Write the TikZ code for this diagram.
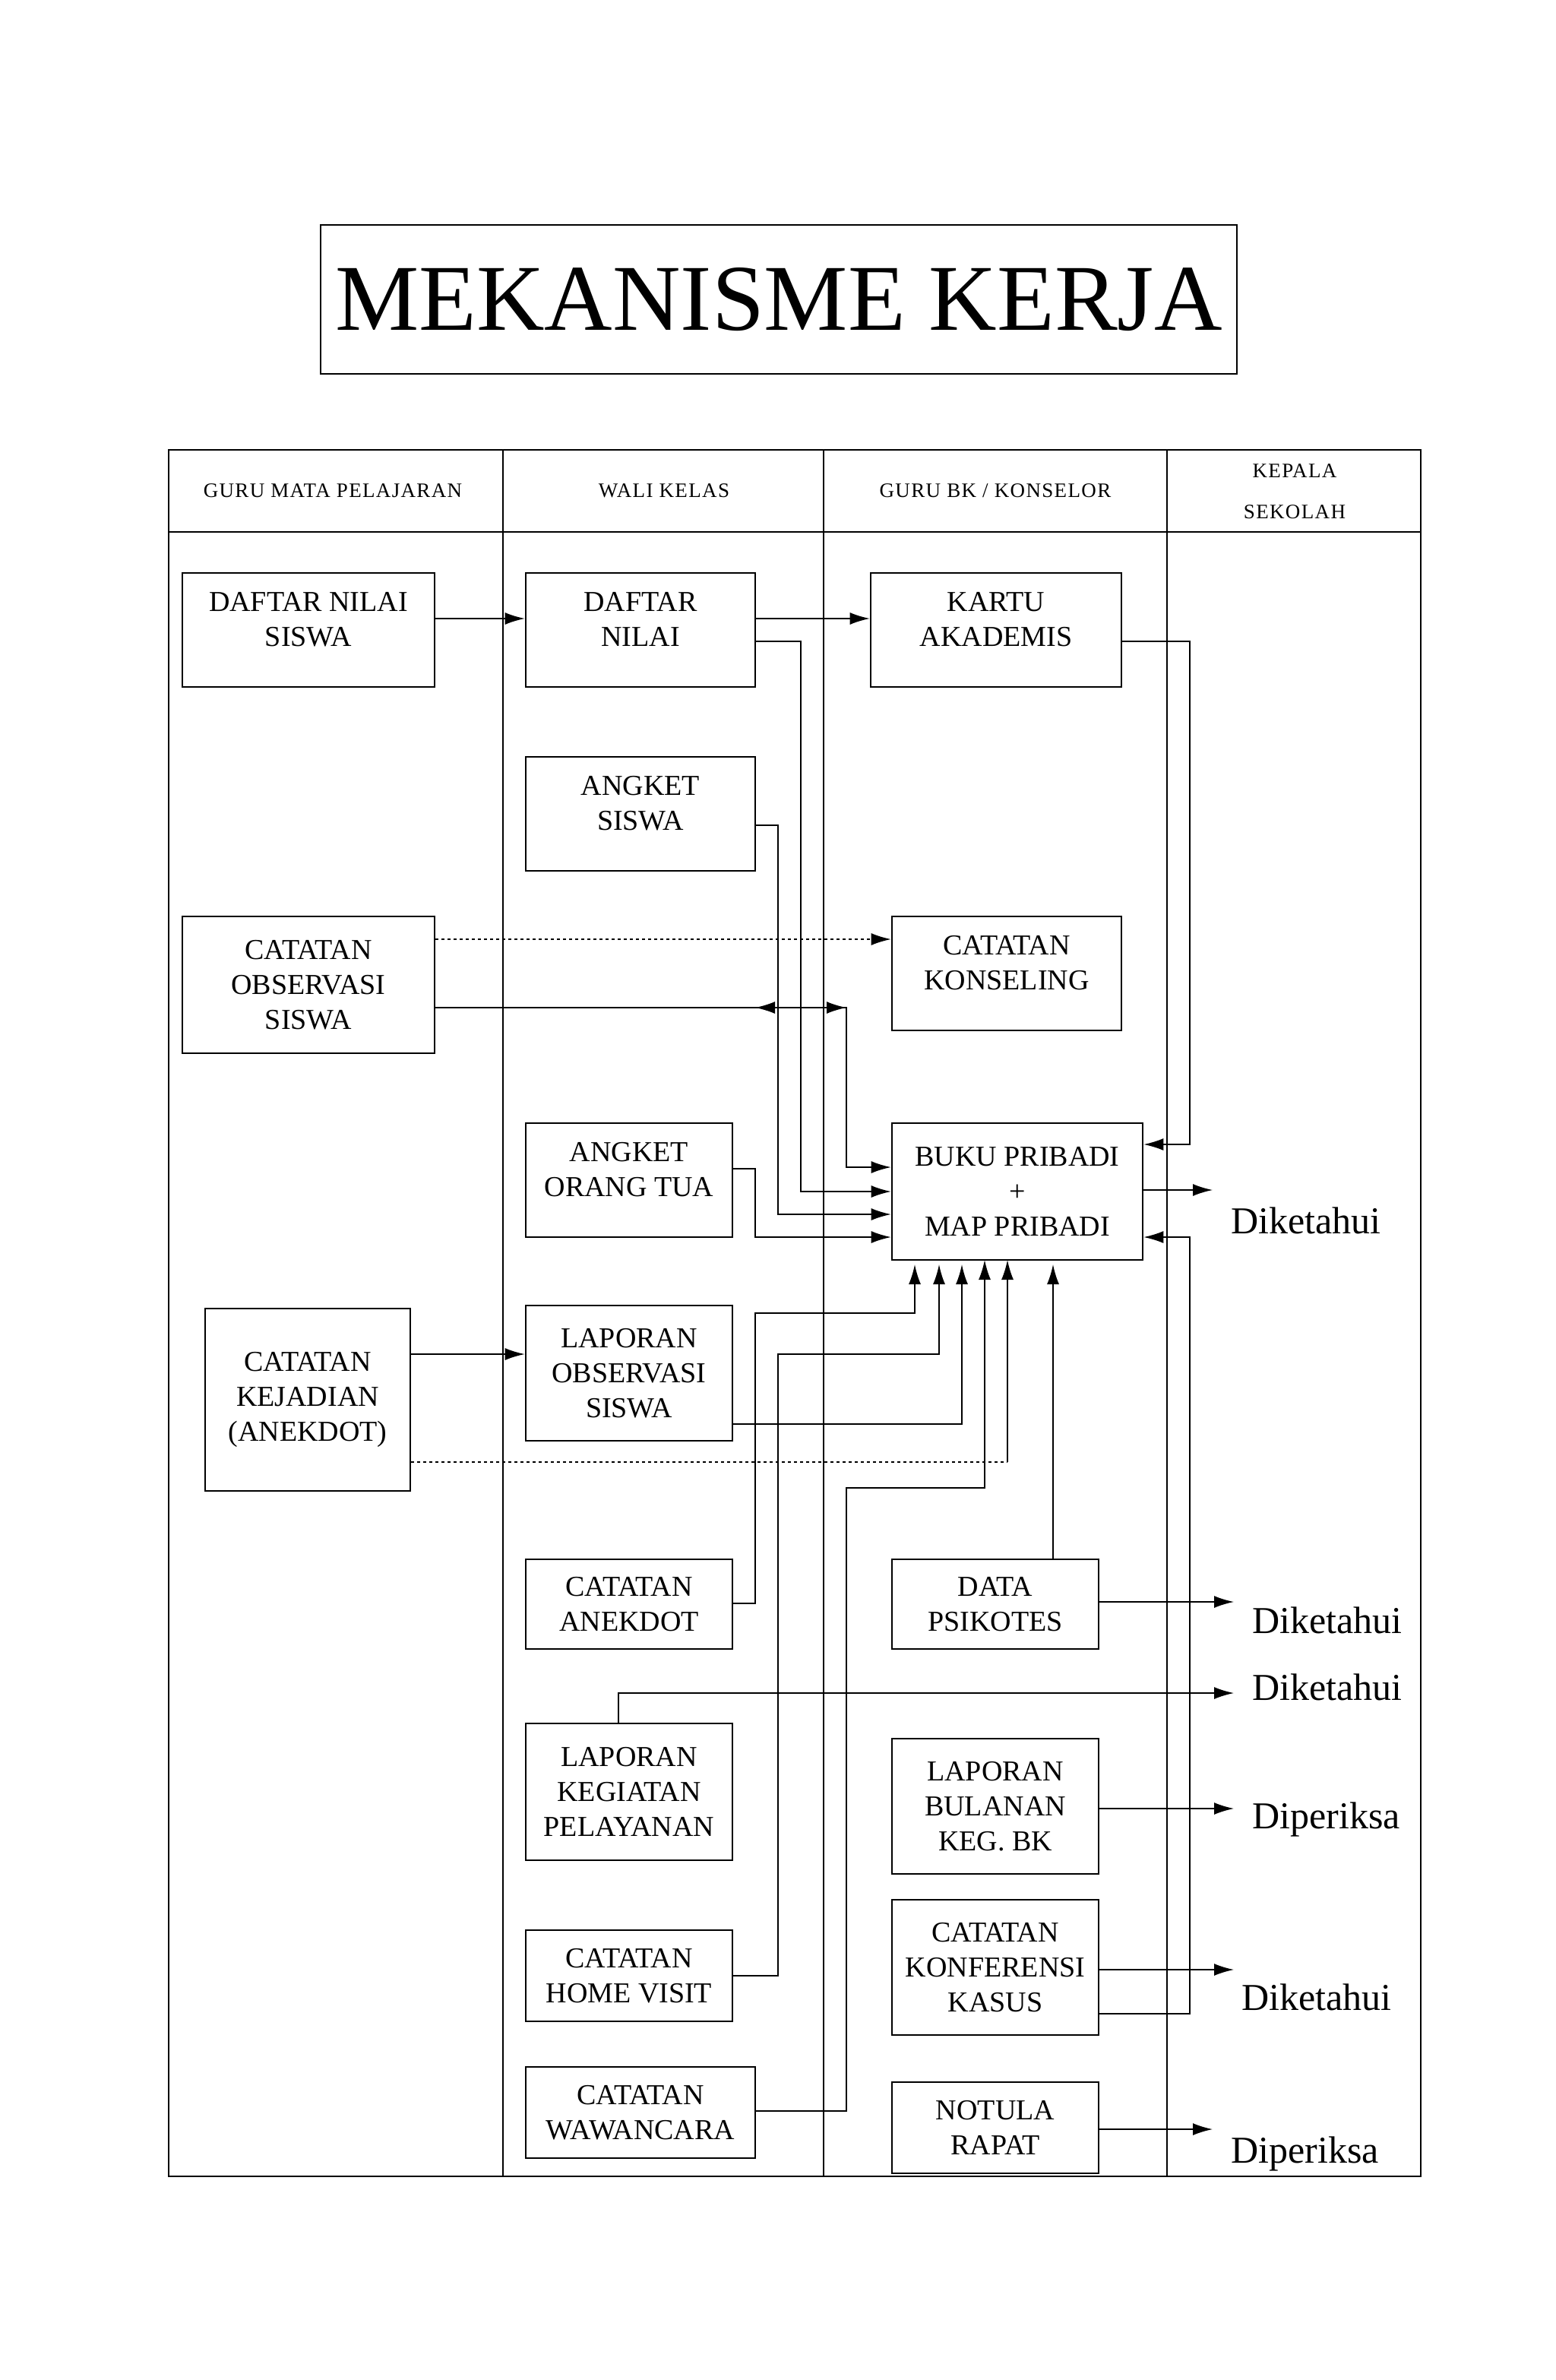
\documentclass[tikz,border=0pt]{standalone}
\usepackage{fontspec}
\setmainfont{Liberation Serif}
\usetikzlibrary{arrows.meta}
\begin{document}
\begin{tikzpicture}[x=1pt,y=-1pt,
  ln/.style={line width=0.9pt},
  ar/.style={ln,-{Latex[length=13pt,width=8pt]}},
  dt/.style={ar,dash pattern=on 2pt off 2pt},
  lab/.style={font=\fontsize{25}{27}\selectfont,anchor=west,inner sep=0}]
\useasboundingbox (0,0) rectangle (1024,1566);
\newcommand\bx[6]{\node[draw,line width=1.3pt,inner sep=0,align=center,
  minimum width={#4-#2},minimum height={#5-#3},
  font=\fontsize{19}{23}\selectfont] (#1) at ({(#2+#4)/2},{(#3+#5)/2}) {#6};}
% title
\node[draw,line width=1pt,minimum width=603,minimum height=98,inner sep=0,
  font=\fontsize{62}{66}\selectfont] (T) at (512.5,197) {MEKANISME KERJA};
% table
\draw[line width=0.9pt] (111,296) rectangle (935,1432);
\draw[line width=0.9pt] (111,350) -- (935,350);
\foreach \x in {331,542,768} \draw[line width=0.9pt] (\x,296) -- (\x,1432);
\begin{scope}[font=\fontsize{13.5}{15}\selectfont\addfontfeatures{LetterSpace=5}]
\node (H1) at (219,323) {GURU MATA PELAJARAN};
\node (H2) at (437,323) {WALI KELAS};
\node (H3) at (655,323) {GURU BK / KONSELOR};
\node (H4a) at (852,310) {KEPALA};
\node (H4b) at (852,337) {SEKOLAH};
\end{scope}
% boxes
\bx{DN1}{120}{377}{286}{452}{DAFTAR NILAI\\SISWA\\[-9pt]}
\bx{DN2}{346}{377}{497}{452}{DAFTAR\\NILAI\\[-9pt]}
\bx{KA}{573}{377}{738}{452}{KARTU\\AKADEMIS\\[-9pt]}
\bx{AS}{346}{498}{497}{573}{ANGKET\\SISWA\\[-9pt]}
\bx{COS}{120}{603}{286}{693}{CATATAN\\OBSERVASI\\SISWA}
\bx{CK}{587}{603}{738}{678}{CATATAN\\KONSELING\\[-9pt]}
\bx{AOT}{346}{739}{482}{814}{ANGKET\\ORANG TUA\\[-9pt]}
\bx{BP}{587}{739}{752}{829}{BUKU PRIBADI\\+\\MAP PRIBADI}
\bx{CKJ}{135}{861}{270}{981}{CATATAN\\KEJADIAN\\(ANEKDOT)}
\bx{LOS}{346}{859}{482}{948}{LAPORAN\\OBSERVASI\\SISWA}
\bx{CA}{346}{1026}{482}{1085}{CATATAN\\ANEKDOT}
\bx{DP}{587}{1026}{723}{1085}{DATA\\PSIKOTES}
\bx{LKP}{346}{1134}{482}{1224}{LAPORAN\\KEGIATAN\\PELAYANAN}
\bx{LB}{587}{1144}{723}{1233}{LAPORAN\\BULANAN\\KEG. BK}
\bx{CHV}{346}{1270}{482}{1330}{CATATAN\\HOME VISIT}
\bx{CKK}{587}{1250}{723}{1339}{CATATAN\\KONFERENSI\\KASUS}
\bx{CW}{346}{1360}{497}{1420}{CATATAN\\WAWANCARA}
\bx{NR}{587}{1370}{723}{1430}{NOTULA\\RAPAT}
% labels
\node[lab] (L1) at (810,803) {Diketahui};
\node[lab] (L2) at (824,1066) {Diketahui};
\node[lab] (L3) at (824,1110) {Diketahui};
\node[lab] (L4) at (824,1197) {Diperiksa};
\node[lab] (L5) at (817,1314) {Diketahui};
\node[lab] (L6) at (810,1417) {Diperiksa};
\coordinate (E1) at (798,783);
\coordinate (E2) at (812,1054);
\coordinate (E3) at (812,1114);
\coordinate (E4) at (812,1190);
\coordinate (E5) at (812,1296);
\coordinate (E6) at (798,1401);
% connectors
\draw[ar] (DN1.east |- 0,407) -- (DN2.west |- 0,407);
\draw[ar] (DN2.east |- 0,407) -- (KA.west |- 0,407);
\draw[ar] (DN2.east |- 0,422) -- (527,422) -- (527,784) -- (BP.west |- 0,784);
\draw[ar] (AS.east |- 0,543) -- (512,543) -- (512,799) -- (BP.west |- 0,799);
\draw[ar] (AOT.east |- 0,769) -- (497,769) -- (497,814) -- (BP.west |- 0,814);
\draw[dt] (COS.east |- 0,618) -- (CK.west |- 0,618);
\draw[ar] (COS.east |- 0,663) -- (557,663) -- (557,768) -- (BP.west |- 0,768);
\draw[ar] (530,663) -- (497,663);
\draw[ar] (530,663) -- (557,663);
\draw[ar] (KA.east |- 0,422) -- (783,422) -- (783,753) -- (BP.east |- 0,753);
\draw[ar] (CKK.east |- 0,1325) -- (783,1325) -- (783,814) -- (BP.east |- 0,814);
\draw[ar] (BP.east |- 0,783) -- (E1);
\draw[ar] (CKJ.east |- 0,891) -- (LOS.west |- 0,891);
\draw[ar] (CA.east |- 0,1055) -- (497,1055) -- (497,864) -- (602,864) -- (602,832);
\draw[ar] (CHV.east |- 0,1300) -- (512,1300) -- (512,891) -- (618,891) -- (618,832);
\draw[ar] (LOS.east |- 0,937) -- (633,937) -- (633,832);
\draw[ar] (CW.east |- 0,1389) -- (557,1389) -- (557,979) -- (648,979) -- (648,829);
\draw[ln,dash pattern=on 2pt off 2pt] (CKJ.east |- 0,962) -- (663,962);
\draw[ar] (663,962) -- (663,829);
\draw[ar] (DP.north -| 693,0) -- (693,832);
\draw[ar] (DP.east |- 0,1054) -- (E2);
\draw[ar] (LKP.north -| 407,0) -- (407,1114) -- (E3);
\draw[ar] (LB.east |- 0,1190) -- (E4);
\draw[ar] (CKK.east |- 0,1296) -- (E5);
\draw[ar] (NR.east |- 0,1401) -- (E6);
\end{tikzpicture}
\end{document}
